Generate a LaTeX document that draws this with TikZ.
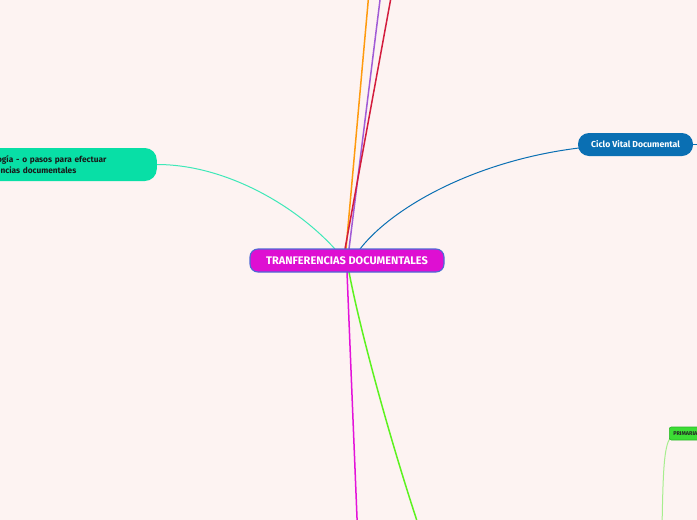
\documentclass[tikz,border=0pt]{standalone}
\usepackage{fontspec}
\setmainfont{Fira Sans}
\usetikzlibrary{positioning}
\definecolor{bgpink}{HTML}{FDF3F2}
\definecolor{ctrfill}{HTML}{DE0FD2}
\definecolor{ctrline}{HTML}{4F68D6}
\definecolor{metfill}{HTML}{08DFA6}
\definecolor{metline}{HTML}{3EE8B8}
\definecolor{cvdfill}{HTML}{0A6FB3}
\definecolor{prifill}{HTML}{3CDD35}
\definecolor{priline}{HTML}{29B625}
\definecolor{orangeline}{HTML}{FF9A0E}
\definecolor{purpleline}{HTML}{A15BD6}
\definecolor{redline}{HTML}{D31C3D}
\definecolor{magline}{HTML}{E313D9}
\definecolor{limeline}{HTML}{5CF21F}
\definecolor{paleline}{HTML}{A6EE8E}
\tikzset{
    ctrnode/.style={
        rounded corners=8pt,  % 圆角
        fill=ctrfill,
        draw=ctrline,
        line width=1.1pt,
        text=white,
        font=\fontsize{11}{12}\selectfont\bfseries,
        minimum width=194pt,
        minimum height=23pt,
        inner sep=0pt
    },
    metnode/.style={
        rounded corners=12pt,
        fill=metfill,
        text=black!90,
        font=\fontsize{8.3}{11}\selectfont\bfseries,
        text width=179pt,
        align=left,
        inner xsep=12pt,
        minimum height=33pt
    },
    cvdnode/.style={
        rounded corners=11pt,
        fill=cvdfill,
        text=white,
        font=\fontsize{8.7}{10}\selectfont\bfseries,
        minimum width=115pt,
        minimum height=23pt,
        inner sep=0pt
    },
    prinode/.style={
        rounded corners=2pt,
        fill=prifill,
        draw=priline,
        line width=0.6pt,
        text=black!85,
        font=\fontsize{5.5}{6}\selectfont\bfseries,
        minimum height=13pt,
        inner xsep=4pt,
        inner ysep=0pt
    }
}

\begin{document}
\begin{tikzpicture}[x=1pt, y=-1pt]
\useasboundingbox (0,0) rectangle (697,520);
\fill[bgpink] (0,0) rectangle (697,520);
\clip (0,0) rectangle (697,520);

% 定义点
\coordinate (C0) at (347,260.5);
\coordinate (L0) at (157,164.5);
\coordinate (R0) at (635.5,144.5);
\coordinate (S0) at (669,433.5);
\coordinate (T1) at (369,-8);
\coordinate (T2) at (381,-8);
\coordinate (T3) at (392,-8);
\coordinate (B1) at (357.5,530);
\coordinate (B2) at (420,530);
\coordinate (B3) at (662,530);
\coordinate (E1) at (705,144.5);

% 连线
\draw[metline, line width=1pt] (L0) .. controls (225,164.5) and (295,205) .. (335,249);
\draw[cvdfill, line width=1pt] (R0) .. controls (505,144.5) and (398,200) .. (360,249);
\draw[cvdfill, line width=1pt] (R0) -- (E1);
\draw[orangeline, line width=1.5pt] (346,249) -- (T1);
\draw[purpleline, line width=1.5pt] (349,249) -- (T2);
\draw[redline, line width=1.5pt] (345,249) -- (T3);
\draw[magline, line width=1.5pt] (347,272) -- (B1);
\draw[limeline, line width=1.5pt] (349,272) .. controls (360,330) and (390,440) .. (B2);
\draw[paleline, line width=1pt] (670,438) .. controls (664,448) and (663,470) .. (B3);

% 节点
\node[ctrnode] (ctr) at (C0) {TRANFERENCIAS DOCUMENTALES};
\node[metnode, anchor=east] (met) at (L0) {Metodología - o pasos para efectuar\\transferencias documentales};
\node[cvdnode] (cvd) at (R0) {Ciclo Vital Documental};
\node[prinode, anchor=west] (pri) at (S0) {PRIMARIAS};

\end{tikzpicture}
\end{document}
